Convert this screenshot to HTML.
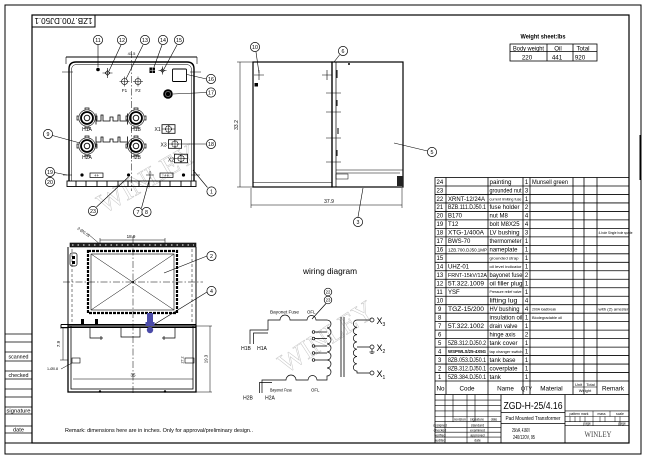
<!DOCTYPE html>
<html><head><meta charset="utf-8">
<style>
html,body{margin:0;padding:0;background:#fff;}
svg{display:block;}
text{font-family:"Liberation Sans Narrow","Liberation Sans",sans-serif;fill:#000;stroke:none;}
</style></head><body>
<svg width="650" height="459" viewBox="0 0 650 459" xmlns="http://www.w3.org/2000/svg">
<defs>
<g id="bsh"><circle r="8.2" stroke-width="0.6"/><circle r="6" stroke-width="1.8"/><circle r="2.8" stroke-width="0.9"/><path d="M-2,-8.2V-10H2V-8.2M-2,8.2V10H2V8.2M-8.2,-2H-10V2H-8.2M8.2,-2H10V2H8.2" stroke-width="0.7"/></g>
<g id="term"><rect x="-6.5" y="-4.3" width="13" height="8.6" stroke-width="0.8"/><circle r="3" stroke-width="0.9" stroke-dasharray="1 0.6"/><path d="M-6.5,0H6.5M0,-4.3V4.3" stroke-width="0.5"/></g>
<g id="xh"><circle r="3" stroke-width="0.6"/><path d="M-5,0H5M0,-5V5" stroke-width="0.5"/></g>
</defs>
<rect width="650" height="459" fill="#fff"/>

<!-- frames -->
<g fill="none" stroke="#000">
<rect x="5" y="5" width="636" height="449" stroke-width="1"/>
<rect x="32" y="15" width="597" height="428" stroke-width="1.2"/>
<line x1="5" y1="443" x2="32" y2="443" stroke-width="1"/>
<rect x="32" y="15" width="63" height="12" stroke-width="1"/>
<path d="M5,334H32M5,342H32M5,352H32M5,361H32M5,371H32M5,379H32M5,389H32M5,397H32M5,407H32M5,414H32M5,426H32M5,433H32" stroke-width="0.8"/>
</g>
<rect x="639.5" y="135" width="2" height="45" fill="#000"/>
<text transform="translate(63.5,21) rotate(180)" font-size="8" text-anchor="middle" dy="3" textLength="58" lengthAdjust="spacingAndGlyphs">1ZB.700.DJ50.1</text>
<text x="18.5" y="358.5" font-size="5.3" text-anchor="middle" textLength="20" lengthAdjust="spacingAndGlyphs">scanned</text>
<text x="18.5" y="377" font-size="5.3" text-anchor="middle" textLength="20" lengthAdjust="spacingAndGlyphs">checked</text>
<text x="18.5" y="412.5" font-size="5.3" text-anchor="middle" textLength="24" lengthAdjust="spacingAndGlyphs">signature</text>
<text x="18.5" y="431.5" font-size="5.3" text-anchor="middle" textLength="11" lengthAdjust="spacingAndGlyphs">date</text>

<!-- watermarks -->
<text transform="translate(104,214) rotate(-30)" font-family="Liberation Serif" font-size="28" fill="none" stroke="#c4c4c4" stroke-width="0.5" textLength="110" lengthAdjust="spacingAndGlyphs" style="font-family:'Liberation Serif',serif;fill:none;stroke:#c4c4c4;">WINLEY</text>
<text transform="translate(286,374) rotate(-33)" font-size="28" textLength="108" lengthAdjust="spacingAndGlyphs" style="font-family:'Liberation Serif',serif;fill:none;stroke:#c4c4c4;stroke-width:0.5;">WINLEY</text>

<!-- FRONT VIEW -->
<g fill="none" stroke="#000">
<line x1="66" y1="57" x2="197" y2="57" stroke-width="0.9"/>
<path d="M66,57V64M197,57V64" stroke-width="0.6"/>
<path d="M69,181V69Q69,62 76,62H187Q194,62 194,69V181" stroke-width="1.4"/>
<path d="M71.5,181V70Q71.5,64.5 77,64.5H186Q191.5,64.5 191.5,70V181" stroke-width="0.5"/>
<path d="M62,72H73M190,72H201M63,175H72M191,175H200" stroke-width="0.6"/>
<rect x="67" y="181" width="129" height="5.5" stroke-width="0.9"/>
<path d="M76,181V186.5M86,181V186.5M97,181V186.5M107,181V186.5M118,181V186.5M128,181V186.5M139,181V186.5M149,181V186.5M160,181V186.5M170,181V186.5M181,181V186.5M191,181V186.5" stroke-width="0.9"/>
<line x1="131.5" y1="51" x2="131.5" y2="191" stroke-width="0.5" stroke-dasharray="7 2 1.5 2"/>
<g stroke="#000"><use href="#bsh" x="87" y="118"/><use href="#bsh" x="136" y="118"/><use href="#bsh" x="87" y="146"/><use href="#bsh" x="136" y="146"/></g>
<path d="M96,113.5V124.5M96,121H101V115H103V121H110V117H113V121H118V115H120V121H127M127.5,113.5V124.5" stroke-width="0.8"/>
<path d="M96,136.5V147M96,142H101V137H103V142H110V139H113V142H118V137H120V142H127M127.5,136.5V147" stroke-width="0.8"/>
<use href="#term" x="168.5" y="129"/><use href="#term" x="175" y="144"/><use href="#term" x="181" y="158.5"/>
<rect x="172.5" y="69" width="14" height="12.5" rx="1" stroke-width="0.9"/>
<circle cx="168" cy="94" r="3" stroke-width="0.8" stroke="#777"/>
<use href="#xh" x="124.5" y="81.5"/><use href="#xh" x="138" y="81.5"/>
<path d="M107.5,70.5L110,73L107.5,75.5L105,73Z M102.5,73H112.5M107.5,68V78" stroke-width="0.6"/>
<path d="M162.5,68.5L164.5,70.5L162.5,72.5L160.5,70.5Z M158.5,70.5H166.5M162.5,66.5V74.5" stroke-width="0.6"/>
<rect x="90" y="173" width="13" height="4.5" stroke-width="0.7"/><rect x="160" y="173" width="13" height="4.5" stroke-width="0.7"/>
<path d="M146,175H154M150,171V179" stroke-width="0.6"/>
</g>
<g fill="#000">
<circle cx="168" cy="94" r="4.8"/>
<circle cx="98" cy="69.5" r="1.8"/>
<rect x="149.5" y="67.5" width="5.5" height="5.5"/>
<circle cx="82" cy="175" r="1.6"/><circle cx="128.5" cy="175" r="1.6"/><circle cx="183.5" cy="175" r="1.6"/>
</g>
<circle cx="168" cy="94" r="2.6" fill="none" stroke="#888" stroke-width="0.7"/>
<path d="M150,70.2H155M152.2,67.5V73" stroke="#fff" stroke-width="0.5"/>
<g font-size="5" text-anchor="middle">
<text x="87" y="131">H1A</text><text x="136" y="131">H1B</text>
<text x="87" y="159">H2A</text><text x="136" y="159">H2B</text>
<text x="124.5" y="92" font-size="4.5">F1</text><text x="138" y="92" font-size="4.5">F2</text>
<text x="131.5" y="55" font-size="4">41.5</text>
<text x="96.5" y="177" font-size="4.5">++</text><text x="166.5" y="177" font-size="4.5">++</text>
</g>
<g font-size="5">
<text x="154.5" y="131">X1</text><text x="160.5" y="146.5">X3</text><text x="168" y="161.5">X2</text>
</g>

<!-- bubbles front -->
<g fill="none" stroke="#000" stroke-width="0.6">
<path d="M98,45V67M121,45L109,71M143,45L126,79M162,45L154,67M177,45L164,69M206.5,79L187,74.5M206.5,92.5L173,94M52.5,135.5L80,143M206.5,144H182M207.5,187.5L193,170M54.5,172.5L67,175M96.5,207L128.5,177M141.5,208L150,177"/>
</g>
<g fill="#fff" stroke="#000" stroke-width="0.7">
<circle cx="98" cy="40" r="4.6"/><circle cx="122" cy="40" r="4.6"/><circle cx="145" cy="40" r="4.6"/><circle cx="163" cy="40" r="4.6"/><circle cx="179" cy="40" r="4.6"/>
<circle cx="211" cy="79" r="4.6"/><circle cx="211" cy="92.5" r="4.6"/><circle cx="48" cy="134" r="4.6"/><circle cx="211" cy="144" r="4.6"/><circle cx="211.5" cy="191.5" r="4.6"/>
<circle cx="50" cy="172" r="4.6"/><circle cx="50" cy="182" r="4.6"/><circle cx="93" cy="211" r="4.6"/><circle cx="138" cy="212" r="4.6"/><circle cx="146.5" cy="212" r="4.6"/>
<circle cx="255" cy="47" r="4.6"/><circle cx="343" cy="51" r="4.6"/><circle cx="432" cy="152" r="4.6"/><circle cx="358" cy="222" r="4.6"/>
<circle cx="211.5" cy="256" r="4.6"/><circle cx="211.5" cy="291" r="4.6"/>
<circle cx="328" cy="292" r="3.8"/><circle cx="328" cy="300" r="3.8"/>
</g>
<g font-size="5.3" text-anchor="middle">
<text x="98" y="42">11</text><text x="122" y="42">12</text><text x="145" y="42">13</text><text x="163" y="42">14</text><text x="179" y="42">15</text>
<text x="211" y="81">16</text><text x="211" y="94.5">17</text><text x="48" y="136">9</text><text x="211" y="146">18</text><text x="211.5" y="193.5">1</text>
<text x="50" y="174">19</text><text x="50" y="184">20</text><text x="93" y="213">23</text><text x="138" y="214">7</text><text x="146.5" y="214">8</text>
<text x="255" y="49">10</text><text x="343" y="53">6</text><text x="432" y="154">5</text><text x="358" y="224">3</text>
<text x="211.5" y="258">2</text><text x="211.5" y="293">4</text>
<text x="328" y="293.7" font-size="4.3">22</text><text x="328" y="301.7" font-size="4.3">23</text>
</g>

<!-- SIDE VIEW -->
<g fill="none" stroke="#000">
<rect x="253" y="62" width="79" height="125" stroke-width="1.2"/>
<line x1="253" y1="182.5" x2="332" y2="182.5" stroke-width="0.6"/>
<rect x="332" y="62" width="71" height="125" stroke-width="1.2"/>
<rect x="332" y="62" width="4" height="125" stroke-width="0.7"/>
<path d="M326,93H341M326,112H341M326,138H341M326,162H341" stroke-width="0.5"/>
<path d="M337,70V78M337,100V106M338,128V134M337,150V156" stroke-width="1"/>
<path d="M336,170H403M336,173H400" stroke-width="0.6"/>
<rect x="336" y="174" width="12" height="5" stroke-width="0.5"/>
<path d="M254,75H264M259,70V80M322,75H332M327,70V80" stroke-width="0.6"/>
<path d="M240,62V187M237,62H253M237,187H253" stroke-width="0.5"/>
<path d="M251,205H402M251,188V208M402,188V208" stroke-width="0.5"/>
<path d="M256,52L259,73M339.5,55L334,62M427.5,151L394,143M358,217L363,188" stroke-width="0.6"/>
</g>
<rect x="397" y="176" width="6" height="10" fill="#222"/>
<rect x="254.5" y="83" width="3.5" height="3.5" fill="#000"/>
<circle cx="349" cy="64" r="1" fill="#000"/>
<text transform="translate(238,125) rotate(-90)" font-size="5" text-anchor="middle">33.2</text>
<text x="329" y="203" font-size="5" text-anchor="middle">37.9</text>

<!-- BOTTOM VIEW -->
<g fill="none" stroke="#000">
<path d="M100,240H165M100,238V246M165,238V246M88,234L101,245" stroke-width="0.5"/>
<rect x="70" y="243" width="126" height="4" fill="#222" stroke-width="0.6"/>
<line x1="72" y1="245" x2="194" y2="245" stroke="#fff" stroke-width="1" stroke-dasharray="1.5 4"/>
<path d="M68,247V326M196,247V326" stroke-width="1"/>
<path d="M72,249V322M192,249V322" stroke-width="0.5" stroke-dasharray="3 2"/>
<rect x="70" y="253" width="7" height="13" rx="2" stroke-width="0.7"/>
<rect x="88" y="251" width="89" height="62" stroke-width="2.2" stroke-dasharray="3 1"/>
<rect x="91" y="254" width="83" height="56" stroke-width="0.6"/>
<path d="M91,254L174,310M174,254L91,310" stroke-width="0.5"/>
<line x1="63" y1="282" x2="203" y2="282" stroke-width="0.5" stroke-dasharray="7 2 1.5 2"/>
<line x1="133" y1="236" x2="133" y2="395" stroke-width="0.5" stroke-dasharray="7 2 1.5 2"/>
<path d="M61,324.5H196M61,327.5H196M61,324.5V327.5M196,324.5V327.5" stroke-width="1"/>
<path d="M90,328V338H103M101,336V340M175,328V338H162M164,336V340M121,327V337H140V327" stroke-width="0.7"/>
<rect x="68" y="326" width="128" height="66" stroke-width="1.3"/>
<rect x="71" y="326" width="122" height="63" stroke-width="0.8"/>
<path d="M73,379H193" stroke-width="0.5"/>
<path d="M63,328V360M60,328H68M60,360H68" stroke-width="0.5"/>
<rect x="72" y="358" width="8" height="5" stroke-width="0.6"/>
<rect x="185" y="358" width="9" height="5" stroke-width="0.6"/>
<path d="M61,369L72,363" stroke-width="0.5"/>
<path d="M210,326V392M196,326H212M196,392H212" stroke-width="0.5"/>
<path d="M207,256L164,273M207,292L155,324" stroke-width="0.6"/>
</g>
<g fill="#000">
<rect x="72" y="256" width="3" height="3"/><rect x="72" y="261" width="3" height="3"/>
<rect x="81" y="319" width="3" height="6"/><rect x="95" y="319" width="3" height="6"/>
<circle cx="133" cy="282" r="1"/>
<circle cx="100" cy="391.5" r="1.2"/><circle cx="165" cy="391.5" r="1.2"/>
</g>
<g fill="#4a4aa8">
<rect x="147" y="313" width="6" height="9"/><rect x="145.5" y="322" width="9" height="4"/><circle cx="150" cy="330" r="3.2"/>
</g>
<text x="131" y="238" font-size="4.5" text-anchor="middle">18.9</text>
<text transform="translate(77,229) rotate(35)" font-size="4">2-Ø0.51</text>
<text transform="translate(60,344) rotate(-90)" font-size="4.5" text-anchor="middle">7.9</text>
<text x="47" y="370" font-size="3.6">1-Ø0.8</text>
<text transform="translate(183.5,360) rotate(-90)" font-size="3.6" text-anchor="middle">27.2</text>
<text transform="translate(207.5,359) rotate(-90)" font-size="4.3" text-anchor="middle">19.3</text>
<text x="133" y="376.5" font-size="4.5" text-anchor="middle">35</text>
<text x="65" y="432" font-size="5.5" textLength="188" lengthAdjust="spacingAndGlyphs">Remark: dimensions here are in inches. Only for approval/preliminary design..</text>

<!-- WIRING DIAGRAM -->
<text x="330" y="274" font-size="8.5" text-anchor="middle" textLength="54" lengthAdjust="spacingAndGlyphs">wiring diagram</text>
<g fill="none" stroke="#000" stroke-width="0.7">
<path d="M250,344V330H268V320H280A5,5 0 0 1 290,320H307A4.5,4.5 0 0 1 316,320H327"/>
<path d="M253.5,344V333H268"/>
<path d="M326,303.5L312,319"/>
<path d="M327,320a4,4 0 0 1 0,8a4,4 0 0 1 0,8a4,4 0 0 1 0,8a4,4 0 0 1 0,8a4,4 0 0 1 0,8a4,4 0 0 1 0,8a4,4 0 0 1 0,8V380H317A4.5,4.5 0 0 0 308,380H296A5,5 0 0 0 286,380H262V393"/>
<path d="M259.5,393V382.5H272"/>
<path d="M315,332H327M315,338.5H327M315,346H327M315,353H327M315,360H327"/>
<path d="M341,317V377M344,317V377" stroke-width="0.8"/>
<path d="M370,320H357a3.5,3.5 0 0 0 0,7.3a3.5,3.5 0 0 0 0,7.3a3.5,3.5 0 0 0 0,7.3a3.5,3.5 0 0 0 0,7.3a3.5,3.5 0 0 0 0,7.3a3.5,3.5 0 0 0 0,7.3a3.5,3.5 0 0 0 0,7.3V373H370"/>
<path d="M357,347H370M372,349V352M369.5,352H374.5M370.5,353.7H373.5"/>
<circle cx="372" cy="320" r="2"/><circle cx="372" cy="347" r="2"/><circle cx="372" cy="373" r="2"/>
<circle cx="313.5" cy="332" r="1.3"/><circle cx="313.5" cy="338.5" r="1.3"/><circle cx="313.5" cy="346" r="1.3"/><circle cx="313.5" cy="353" r="1.3"/><circle cx="313.5" cy="360" r="1.3"/>
</g>
<g font-size="4.3">
<text x="270" y="313.5" textLength="29" lengthAdjust="spacingAndGlyphs">Bayonet Fuse</text><text x="307" y="313.5">OFL</text>
<text x="270" y="391.5" textLength="22" lengthAdjust="spacingAndGlyphs">Bayonet Fuse</text><text x="311" y="391.5">OFL</text>
<text x="246" y="350" text-anchor="middle" font-size="5">H1B</text><text x="262" y="350" text-anchor="middle" font-size="5">H1A</text>
<text x="248" y="399.5" text-anchor="middle" font-size="5">H2B</text><text x="270" y="399.5" text-anchor="middle" font-size="5">H2A</text>
</g>
<g font-size="9">
<text x="376.5" y="324">X<tspan font-size="5" dy="2">3</tspan></text>
<text x="376.5" y="351">X<tspan font-size="5" dy="2">2</tspan></text>
<text x="376.5" y="377">X<tspan font-size="5" dy="2">1</tspan></text>
</g>

<!-- WEIGHT SHEET -->
<text x="543" y="38.5" font-size="6.5" font-weight="bold" text-anchor="middle" textLength="45" lengthAdjust="spacingAndGlyphs">Weight sheet:lbs</text>
<g fill="none" stroke="#000" stroke-width="0.8">
<rect x="510" y="44" width="87" height="17"/>
<path d="M510,51.5H597M547,44V61M573,44V61"/>
</g>
<g font-size="6.2">
<text x="528.5" y="50.3" text-anchor="middle" textLength="31" lengthAdjust="spacingAndGlyphs">Body weight</text>
<text x="558" y="50.3" text-anchor="middle">Oil</text>
<text x="583" y="50.3" text-anchor="middle">Total</text>
<text x="527" y="59.3" text-anchor="middle">220</text>
<text x="557" y="59.3" text-anchor="middle">441</text>
<text x="580" y="59.3" text-anchor="middle">920</text>
</g>

<!-- PARTS TABLE -->
<g fill="none" stroke="#000" stroke-width="0.8">
<rect x="435" y="177.5" width="194" height="217"/>
<path d="M435,185.98H629M435,194.46H629M435,202.94H629M435,211.42H629M435,219.9H629M435,228.38H629M435,236.86H629M435,245.34H629M435,253.82H629M435,262.3H629M435,270.78H629M435,279.26H629M435,287.74H629M435,296.22H629M435,304.7H629M435,313.18H629M435,321.66H629M435,330.14H629M435,338.62H629M435,347.1H629M435,355.58H629M435,364.06H629M435,372.54H629M435,381H629"/>
<path d="M446,177.5V394.5M488,177.5V394.5M523,177.5V394.5M530,177.5V394.5M573,177.5V394.5M584,177.5V394.5M597,177.5V394.5"/>
<path d="M573,387H597" stroke-width="0.5"/>
<!-- title block -->
<path d="M435,394.5V443M501,394.5V443M565,394.5V443"/>
<path d="M435,400.1H501M435,405.3H501M435,410.9H501M435,416.5H501M435,421.7H501M435,427.3H501M435,432.2H501M435,437.1H501" stroke-width="0.6"/>
<path d="M445,394.5V443M453,394.5V421.7M467,394.5V443M475,394.5V421.7M488,394.5V443" stroke-width="0.6"/>
<path d="M501,412.5H565M501,423.4H565"/>
<path d="M565,410.9H629M565,416.5H629M565,421.7H629M565,425.7H629" stroke-width="0.6"/>
<path d="M593,410.9V425.7M610,410.9V416.5M570,416.5V421.7M575,416.5V421.7M580,416.5V421.7M585,416.5V421.7M600,416.5V421.7M605,416.5V421.7M615,416.5V421.7M620,416.5V425.7" stroke-width="0.5"/>
</g>
<g font-size="6">
<text x="436.5" y="183.8">24</text><text x="489.5" y="183.8" textLength="22" lengthAdjust="spacingAndGlyphs">painting</text><text x="526.5" y="183.8" text-anchor="middle">1</text><text x="532" y="183.8" textLength="36" lengthAdjust="spacingAndGlyphs">Munsell green</text>
<text x="436.5" y="192.3">23</text><text x="489.5" y="192.3" textLength="32" lengthAdjust="spacingAndGlyphs">grounded nut</text><text x="526.5" y="192.3" text-anchor="middle">3</text>
<text x="436.5" y="200.8">22</text><text x="448" y="200.8" textLength="37" lengthAdjust="spacingAndGlyphs">XRNT-12/24A</text><text x="489.5" y="200.3" font-size="3.5" textLength="32" lengthAdjust="spacingAndGlyphs">current limiting fuse</text><text x="526.5" y="200.8" text-anchor="middle">1</text>
<text x="436.5" y="209.2">21</text><text x="448" y="209.2" textLength="38" lengthAdjust="spacingAndGlyphs">BZB.111.DJ50.1</text><text x="489.5" y="209.2" textLength="30" lengthAdjust="spacingAndGlyphs">fuse holder</text><text x="526.5" y="209.2" text-anchor="middle">2</text>
<text x="436.5" y="217.7">20</text><text x="448" y="217.7">B170</text><text x="489.5" y="217.7">nut M8</text><text x="526.5" y="217.7" text-anchor="middle">4</text>
<text x="436.5" y="226.2">19</text><text x="448" y="226.2">T12</text><text x="489.5" y="226.2" textLength="30" lengthAdjust="spacingAndGlyphs">bolt M8X25</text><text x="526.5" y="226.2" text-anchor="middle">4</text>
<text x="436.5" y="234.7">18</text><text x="448" y="234.7" textLength="36" lengthAdjust="spacingAndGlyphs">XTG-1/400A</text><text x="489.5" y="234.7" textLength="30" lengthAdjust="spacingAndGlyphs">LV bushing</text><text x="526.5" y="234.7" text-anchor="middle">3</text><text x="598.5" y="234" font-size="3.2" textLength="34" lengthAdjust="spacingAndGlyphs">4-hole Single hole spade</text>
<text x="436.5" y="243.2">17</text><text x="448" y="243.2">BWS-70</text><text x="489.5" y="243.2" textLength="32" lengthAdjust="spacingAndGlyphs">thermometer</text><text x="526.5" y="243.2" text-anchor="middle">1</text>
<text x="436.5" y="251.6">16</text><text x="448" y="251.3" font-size="4.6" textLength="39" lengthAdjust="spacingAndGlyphs">1ZB.700.DJ50.1MP</text><text x="489.5" y="251.6" textLength="28" lengthAdjust="spacingAndGlyphs">nameplate</text><text x="526.5" y="251.6" text-anchor="middle">1</text>
<text x="436.5" y="260.1">15</text><text x="489.5" y="259.6" font-size="3.5" textLength="29" lengthAdjust="spacingAndGlyphs">grounded strap</text><text x="526.5" y="260.1" text-anchor="middle">1</text>
<text x="436.5" y="268.6">14</text><text x="448" y="268.6">UHZ-01</text><text x="489.5" y="268.1" font-size="3.5" textLength="32" lengthAdjust="spacingAndGlyphs">oil level indicator</text><text x="526.5" y="268.6" text-anchor="middle">1</text>
<text x="436.5" y="277.1">13</text><text x="448" y="277.1" font-size="5" textLength="39" lengthAdjust="spacingAndGlyphs">FRNT-15kV/12A</text><text x="489.5" y="277.1" textLength="33" lengthAdjust="spacingAndGlyphs">bayonet fuse</text><text x="526.5" y="277.1" text-anchor="middle">2</text>
<text x="436.5" y="285.6">12</text><text x="448" y="285.6" textLength="36" lengthAdjust="spacingAndGlyphs">5T.322.1009</text><text x="489.5" y="285.6" textLength="33" lengthAdjust="spacingAndGlyphs">oil filler plug</text><text x="526.5" y="285.6" text-anchor="middle">1</text>
<text x="436.5" y="294.0">11</text><text x="448" y="294.0">YSF</text><text x="489.5" y="293" font-size="3.2" textLength="32" lengthAdjust="spacingAndGlyphs">Pressure relief valve</text><text x="526.5" y="294.0" text-anchor="middle">1</text>
<text x="436.5" y="302.5">10</text><text x="489.5" y="302.5" textLength="28" lengthAdjust="spacingAndGlyphs">lifting lug</text><text x="526.5" y="302.5" text-anchor="middle">4</text>
<text x="438" y="311.0">9</text><text x="448" y="311.0" textLength="36" lengthAdjust="spacingAndGlyphs">TGZ-15/200</text><text x="489.5" y="311.0" textLength="30" lengthAdjust="spacingAndGlyphs">HV bushing</text><text x="526.5" y="311.0" text-anchor="middle">4</text><text x="532" y="310.5" font-size="4" textLength="24" lengthAdjust="spacingAndGlyphs">200A loadbreak</text><text x="598.5" y="310.5" font-size="3.6" textLength="30" lengthAdjust="spacingAndGlyphs">with (2) arrester</text>
<text x="438" y="319.5">8</text><text x="489.5" y="319.5" textLength="33" lengthAdjust="spacingAndGlyphs">insulation oil</text><text x="526.5" y="319.5" text-anchor="middle">1</text><text x="532" y="319" font-size="4" textLength="30" lengthAdjust="spacingAndGlyphs">Biodegradable oil</text>
<text x="438" y="328.0">7</text><text x="448" y="328.0" textLength="36" lengthAdjust="spacingAndGlyphs">5T.322.1002</text><text x="489.5" y="328.0" textLength="28" lengthAdjust="spacingAndGlyphs">drain valve</text><text x="526.5" y="328.0" text-anchor="middle">1</text>
<text x="438" y="336.4">6</text><text x="489.5" y="336.4" textLength="26" lengthAdjust="spacingAndGlyphs">hinge axis</text><text x="526.5" y="336.4" text-anchor="middle">2</text>
<text x="438" y="344.9">5</text><text x="448" y="344.9" textLength="38" lengthAdjust="spacingAndGlyphs">5ZB.312.DJ50.2</text><text x="489.5" y="344.9" textLength="28" lengthAdjust="spacingAndGlyphs">tank cover</text><text x="526.5" y="344.9" text-anchor="middle">1</text>
<text x="438" y="353.4">4</text><text x="448" y="353" font-size="4.6" font-weight="bold" textLength="38" lengthAdjust="spacingAndGlyphs">WSPWLS/25-4X5G</text><text x="489.5" y="352.9" font-size="3.5" textLength="33" lengthAdjust="spacingAndGlyphs">tap changer switch</text><text x="526.5" y="353.4" text-anchor="middle">1</text>
<text x="438" y="361.9">3</text><text x="448" y="361.9" textLength="38" lengthAdjust="spacingAndGlyphs">8ZB.053.DJ50.1</text><text x="489.5" y="361.9" textLength="26" lengthAdjust="spacingAndGlyphs">tank base</text><text x="526.5" y="361.9" text-anchor="middle">1</text>
<text x="438" y="370.4">2</text><text x="448" y="370.4" textLength="38" lengthAdjust="spacingAndGlyphs">8ZB.312.DJ50.1</text><text x="489.5" y="370.4" textLength="28" lengthAdjust="spacingAndGlyphs">coverplate</text><text x="526.5" y="370.4" text-anchor="middle">1</text>
<text x="438" y="378.8">1</text><text x="448" y="378.8" textLength="38" lengthAdjust="spacingAndGlyphs">5ZB.384.DJ50.1</text><text x="489.5" y="378.8">tank</text><text x="526.5" y="378.8" text-anchor="middle">1</text>
</g>
<g font-size="6.3" text-anchor="middle">
<text x="440.5" y="390.5">No</text><text x="467" y="390.5">Code</text><text x="505.5" y="390.5">Name</text>
<text x="526.5" y="390.5" font-size="5.5">QTY</text><text x="551.5" y="390.5">Material</text>
<text x="578.5" y="386" font-size="4">Unit</text><text x="590.5" y="386" font-size="4">Total</text><text x="585" y="392" font-size="4">Weight</text>
<text x="613" y="390.5">Remark</text>
</g>
<!-- title block texts -->
<text x="533" y="409" font-size="10" text-anchor="middle" textLength="59" lengthAdjust="spacingAndGlyphs">ZGD-H-25/4.16</text>
<text x="533" y="420" font-size="5.5" text-anchor="middle" textLength="55" lengthAdjust="spacingAndGlyphs">Pad Mounted Transformer</text>
<text x="512" y="432" font-size="5.2" textLength="18" lengthAdjust="spacingAndGlyphs">25kVA, 4160V</text>
<text x="513" y="439" font-size="5.2" textLength="22" lengthAdjust="spacingAndGlyphs">240/120V, 95</text>
<text x="598" y="437" font-size="8.5" text-anchor="middle" fill="#444" style="font-family:'Liberation Serif',serif;fill:#444;" textLength="27" lengthAdjust="spacingAndGlyphs">WINLEY</text>
<g font-size="3.4" text-anchor="middle">
<text x="579" y="415">pattern mark</text><text x="601.5" y="415">mass</text><text x="620" y="415">scale</text>
<text x="587" y="424.7">page</text><text x="622" y="424.7">page</text>
<text x="460" y="420.7">revision</text><text x="477" y="420.7">signature</text><text x="494" y="420.7">date</text>
<text x="440" y="426.3">designed</text><text x="440" y="431.3">checked</text><text x="440" y="436.3">verified</text><text x="440" y="441.5">audited</text>
<text x="477.5" y="426.3">standard</text><text x="477.5" y="431.3">examined</text><text x="477.5" y="436.3">approved</text><text x="477.5" y="441.5">date</text>
</g>
</svg>
</body></html>
